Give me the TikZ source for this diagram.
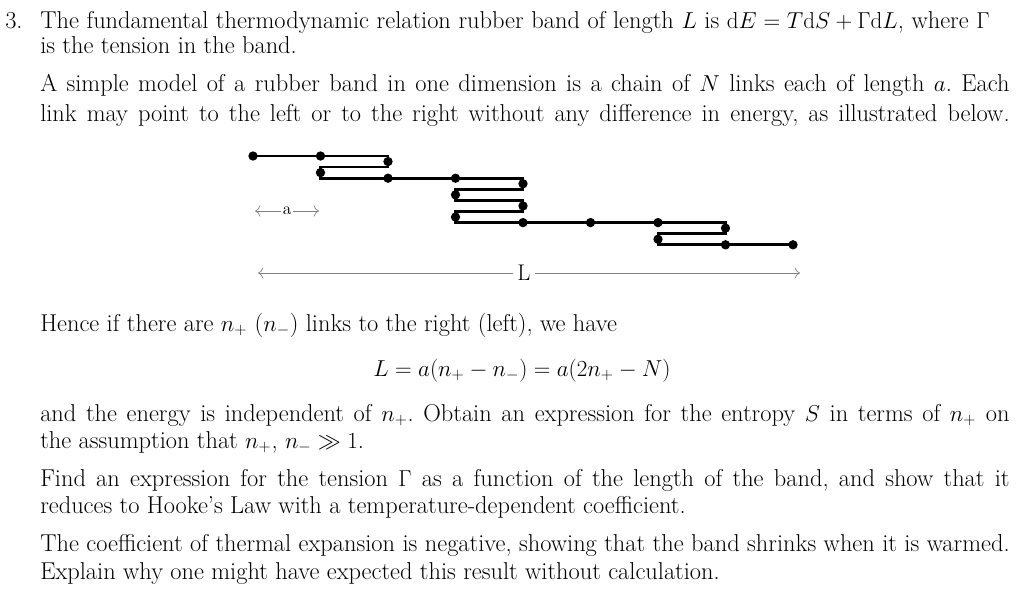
\documentclass[tikz,border=0pt]{standalone}
\usepackage{amsmath}
\usetikzlibrary{arrows.meta}
\begin{document}
\frenchspacing
\begin{tikzpicture}[x=0.75pt,y=-0.75pt,
  txt/.style={anchor=base west,inner sep=0pt,font=\fontsize{18.3}{20}\selectfont},
  link/.style={line width=2pt,line cap=round},
  dot/.style={circle,fill=black,inner sep=0pt,minimum size=7pt},
  dim/.style={gray,line width=0.5pt,-{To[length=4pt]}}]
\useasboundingbox (0,0) rectangle (1024,597);
\newcommand{\fw}{\hbox to 727pt}
\node[txt] (n3) at (5,28) {3.};
\node[txt] (l1) at (40,28) {\hbox to 712pt{The fundamental thermodynamic relation rubber band of length $L$ is $\mathrm{d}E=T\mathrm{d}S+\Gamma\mathrm{d}L$, where $\Gamma$}};
\node[txt] (l2) at (40,53) {is the tension in the band.};
\node[txt] (l3) at (40,91) {\fw{A simple model of a rubber band in one dimension is a chain of $N$ links each of length $a$. Each}};
\node[txt] (l4) at (40,121) {\fw{link may point to the left or to the right without any difference in energy, as illustrated below.}};
% chain
\def\cx#1{253+67.5*#1}
\def\ry#1{156+11.1*#1}
\foreach \c/\r [count=\i] in {0/0,2/0,2/1,1/1,1/2,4/2,4/3,3/3,3/4,4/4,4/5,3/5,3/6,7/6,7/7,6/7,6/8,8/8}
  \coordinate (p\i) at ({\cx{\c}},{\ry{\r}});
\draw[link] (p1)--(p2)--(p3)--(p4)--(p5)--(p6)--(p7)--(p8)--(p9)--(p10)--(p11)--(p12)--(p13)--(p14)--(p15)--(p16)--(p17)--(p18);
\foreach \c/\r [count=\i] in {0/0,1/0,2/0.5,1/1.5,2/2,3/2,4/2.5,3/3.5,4/4.5,3/5.5,4/6,5/6,6/6,7/6.5,6/7.5,7/8,8/8}
  \node[dot] (d\i) at ({\cx{\c}},{\ry{\r}}) {};
\node[font=\fontsize{13}{14}\selectfont,inner sep=1pt] (la) at (287,211) {a};
\coordinate (a1) at (255,211); \coordinate (a2) at (319,211);
\draw[dim] (la)--(a1); \draw[dim] (la)--(a2);
\node[font=\fontsize{17}{18}\selectfont,inner sep=3pt] (lL) at (524,273) {L};
\coordinate (L1) at (258,273); \coordinate (L2) at (800,273);
\draw[dim] (lL)--(L1); \draw[dim] (lL)--(L2);
% text
\node[txt] (l5) at (40,331) {Hence if there are $n_+$ ($n_-$) links to the right (left), we have};
\node[txt,anchor=base] (eq) at (522,376) {$L=a(n_+-n_-)=a(2n_+-N)$};
\node[txt] (l6) at (40,421) {\fw{and the energy is independent of $n_+$. Obtain an expression for the entropy $S$ in terms of $n_+$ on}};
\node[txt] (l7) at (40,448) {the assumption that $n_+$, $n_-\gg1$.};
\node[txt] (l8) at (40,486) {\fw{Find an expression for the tension $\Gamma$ as a function of the length of the band, and show that it}};
\node[txt] (l9) at (40,513) {reduces to Hooke's Law with a temperature-dependent coefficient.};
\node[txt] (l10) at (40,551) {\fw{The coefficient of thermal expansion is negative, showing that the band shrinks when it is warmed.}};
\node[txt] (l11) at (40,579) {Explain why one might have expected this result without calculation.};
\end{tikzpicture}
\end{document}
